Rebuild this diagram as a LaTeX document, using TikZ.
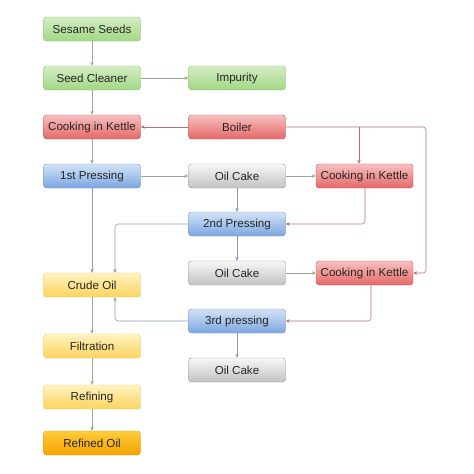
\documentclass[tikz,border=0pt]{standalone}
\usepackage{fontspec}
\setmainfont{Liberation Sans}
\usetikzlibrary{arrows.meta,calc}
\definecolor{gfill1}{HTML}{D4EDC4}\definecolor{gfill2}{HTML}{A2D784}\definecolor{gline}{HTML}{8CBF72}
\definecolor{rfill1}{HTML}{F8C0C0}\definecolor{rfill2}{HTML}{E46868}\definecolor{rline}{HTML}{C45A5A}
\definecolor{bfill1}{HTML}{D3E3F7}\definecolor{bfill2}{HTML}{7BA6E0}\definecolor{bline}{HTML}{6F93C6}
\definecolor{kfill1}{HTML}{F7F7F7}\definecolor{kfill2}{HTML}{C2C2C2}\definecolor{kline}{HTML}{9A9A9A}
\definecolor{yfill1}{HTML}{FFF3C0}\definecolor{yfill2}{HTML}{FCD35E}\definecolor{yline}{HTML}{E8CB70}
\definecolor{ofill1}{HTML}{FFCC3A}\definecolor{ofill2}{HTML}{F5A100}\definecolor{oline}{HTML}{E09A10}
\definecolor{garr}{HTML}{93AD8E}\definecolor{rarr}{HTML}{B86F6F}\definecolor{barr}{HTML}{8C9DAE}
\tikzset{
  box/.style={rounded corners=3pt,minimum width=97pt,minimum height=24pt,inner sep=0pt,font=\fontsize{11.6}{13}\selectfont,text=black!85},
  gbox/.style={box,draw=gline,top color=gfill1,bottom color=gfill2},
  rbox/.style={box,draw=rline,top color=rfill1,bottom color=rfill2},
  bbox/.style={box,draw=bline,top color=bfill1,bottom color=bfill2},
  kbox/.style={box,draw=kline,top color=kfill1,bottom color=kfill2},
  ybox/.style={box,draw=yline,top color=yfill1,bottom color=yfill2},
  obox/.style={box,draw=oline,top color=ofill1,bottom color=ofill2},
  conn/.style={-{Stealth[length=4pt,width=3.5pt]},line width=0.55pt,rounded corners=3pt},
  gc/.style={conn,draw=garr},
  rc/.style={conn,draw=rarr},
  bc/.style={conn,draw=barr},
}
\begin{document}
\begin{tikzpicture}[x=1pt,y=-1pt]
\useasboundingbox (0,0) rectangle (474,474);
\node[gbox] (seeds) at (92,29) {Sesame Seeds};
\node[gbox] (clean) at (92,78) {Seed Cleaner};
\node[gbox] (imp) at (237,78) {Impurity};
\node[rbox] (ck1) at (92,127) {Cooking in Kettle};
\node[rbox] (boil) at (237,127) {Boiler};
\node[bbox] (p1) at (92,176) {1st Pressing};
\node[kbox] (oc1) at (237,176) {Oil Cake};
\node[rbox] (ck2) at (364.5,176) {Cooking in Kettle};
\node[bbox] (p2) at (237,224) {2nd Pressing};
\node[kbox] (oc2) at (237,273) {Oil Cake};
\node[rbox] (ck3) at (364.5,273) {Cooking in Kettle};
\node[bbox] (p3) at (237,321) {3rd pressing};
\node[kbox] (oc3) at (237,370) {Oil Cake};
\node[ybox] (crude) at (92,285) {Crude Oil};
\node[ybox] (filt) at (92,346) {Filtration};
\node[ybox] (ref) at (92,397) {Refining};
\node[obox] (refd) at (92,443) {Refined Oil};
\coordinate (bcorner) at (426,127);
\coordinate (bbranch) at (359,127);
% flows
\draw[gc] (seeds) -- (clean);
\draw[gc] (clean) -- (imp);
\draw[gc] (clean) -- (ck1);
\draw[rc] (boil) -- (ck1);
\draw[rc] (boil.east) -- (bcorner) |- (ck3.east);
\draw[rc] (bbranch) -- (bbranch |- ck2.north);
\draw[gc] (ck1) -- (p1);
\draw[gc] (p1) -- (oc1);
\draw[bc] (p1) -- (crude);
\draw[bc] (oc1) -- (p2);
\draw[gc] (oc1) -- (ck2);
\draw[rc] ($(ck2.south)+(0.5,0)$) |- (p2.east);
\draw[bc] (p2.west) -| ($(crude.north)+(23,0)$);
\draw[bc] (p2) -- (oc2);
\draw[gc] (oc2) -- (ck3);
\draw[rc] ($(ck3.south)+(6.5,0)$) |- (p3.east);
\draw[bc] (p3.west) -| ($(crude.south)+(23,0)$);
\draw[bc] (p3) -- (oc3);
\draw[gc] (crude) -- (filt);
\draw[gc] (filt) -- (ref);
\draw[gc] (ref) -- (refd);
\end{tikzpicture}
\end{document}
